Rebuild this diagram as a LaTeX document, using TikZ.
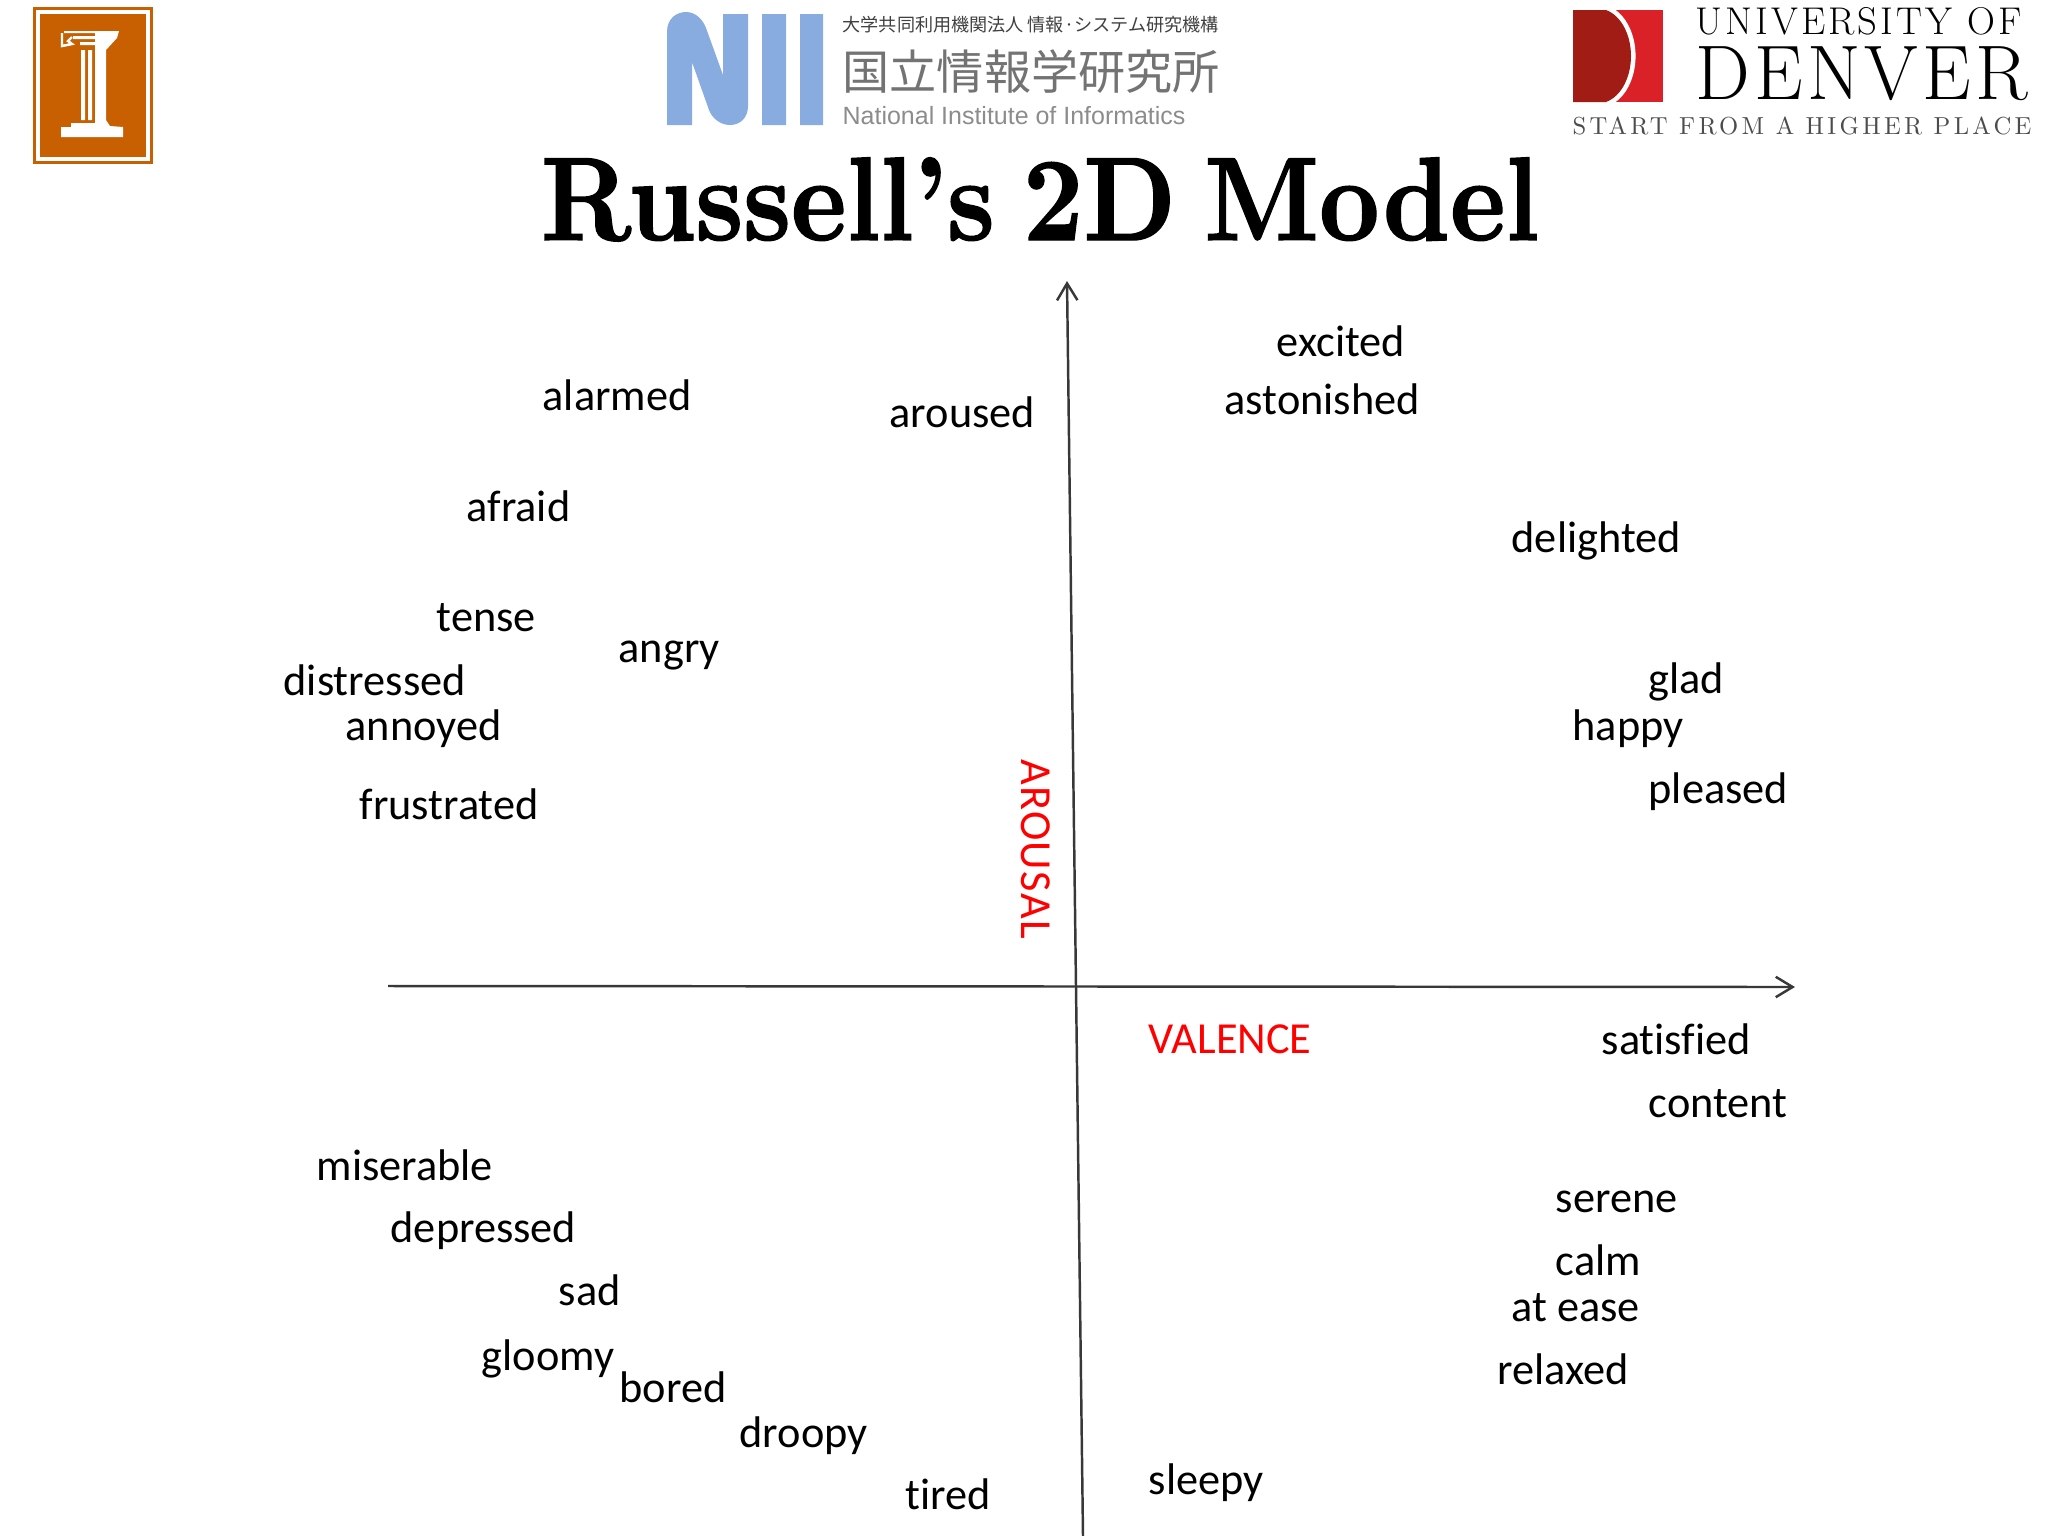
\documentclass[tikz,border=0pt]{standalone}
\usepackage{fontspec}
\usetikzlibrary{arrows.meta}
\newfontfamily\wordfont[Ligatures=NoCommon]{Carlito}
\newfontfamily\axisfont[LetterSpace=3]{Carlito}
\newfontfamily\cjkfont{Noto Sans CJK JP}
\newfontfamily\titlefont[Extension=.otf,FakeBold=1.2,WordSpace=.7]{lmroman10-bold}
\newfontfamily\uniSerif[Extension=.otf,LetterSpace=8]{lmroman17-regular}
\newfontfamily\denverSerif[Extension=.otf,LetterSpace=5.3]{lmroman17-regular}
\newfontfamily\mottoSerif[Extension=.otf,LetterSpace=13.4]{lmroman10-regular}
\newfontfamily\latinLabel{Liberation Sans}
\definecolor{illiniOrange}{HTML}{C85F00}
\definecolor{niiBlue}{HTML}{88ABE0}
\definecolor{duRed}{HTML}{DA2128}
\definecolor{duDark}{HTML}{A01C14}
\definecolor{axisRed}{HTML}{FF0000}

\begin{document}
\begin{tikzpicture}[
  x=0.01cm,y=-0.01cm,
  >={Straight Barb[length=4.8pt,width=5.8pt]},
  emotion/.style={anchor=base west,inner sep=0pt,font=\wordfont\fontsize{12.6}{14}\selectfont},
  axisname/.style={anchor=base west,inner sep=0pt,text=axisRed,font=\wordfont\fontsize{12.6}{14}\selectfont},
  axis/.style={->,line width=.7pt,black!78},
  logotext/.style={anchor=base west,inner sep=0pt}
]
  \useasboundingbox (0,0) rectangle (2048,1536);

  % illinois logo
  \fill[illiniOrange] (33,7) rectangle (153,164);
  \draw[white,line width=.9pt] (38,12) rectangle (148,159);
  \fill[white] (95,31) -- (119,31) -- (117,38) -- (106,50) -- (106,120) -- (110,126) -- (123,127) -- (123,137)
    -- (61,137) -- (61,127) -- (71,127) -- (71,123) -- (95,123) -- cycle;
  \fill[white] (81,50) rectangle (85,120) (88,50) rectangle (92,120);
  \fill[white] (64,31) rectangle (95,33) (73,36) rectangle (95,39) (80,42) rectangle (95,45);
  \draw[white,line width=.7pt] (72,37) -- (68,41) -- (72,44) -- (62,46) -- (62,33);

  % nii logo
  \fill[niiBlue] (667,125) -- (667,32) .. controls (667,18) and (677,12) .. (686,12)
    .. controls (696,12) and (703,20) .. (706,28) -- (723,75) -- (723,14) -- (748,14) -- (748,106)
    .. controls (748,118) and (740,125) .. (730,125) .. controls (720,125) and (712,118) .. (709,110)
    -- (692,62) -- (692,125) -- cycle;
  \fill[niiBlue] (762,14) rectangle (786,125) (800,14) rectangle (823,125);
  \node[logotext,text=black!75,font=\cjkfont\fontsize{5.15}{6}\selectfont] (niiTop) at (842,31) {大学共同利用機関法人 情報·システム研究機構};
  \node[logotext,text=black!55,font=\cjkfont\fontsize{13.4}{15}\selectfont] (niiName) at (842,89) {国立情報学研究所};
  \node[logotext,text=black!45,font=\latinLabel\fontsize{7.1}{8}\selectfont] (niiEnglish) at (842,124) {National Institute of Informatics};

  % denver logo
  \fill[duRed] (1573,10) rectangle (1663,102);
  \draw[white,line width=2.6pt] (1606,10) .. controls (1622,16) and (1631,36) .. (1631,56)
    .. controls (1631,76) and (1622,96) .. (1606,102);
  \fill[duDark] (1573,10) -- (1606,10) .. controls (1622,16) and (1631,36) .. (1631,56)
    .. controls (1631,76) and (1622,96) .. (1606,102) -- (1573,102) -- cycle;
  \node[logotext,font=\uniSerif\fontsize{11}{13}\selectfont] (duUniversity) at (1695,34) {UNIVERSITY OF};
  \node[logotext,font=\denverSerif\fontsize{22}{24}\selectfont] (duDenver) at (1695,99) {DENVER};
  \node[logotext,text=black!70,font=\mottoSerif\fontsize{7}{9}\selectfont] (duMotto) at (1572,134) {START FROM A HIGHER PLACE};

  % title
  \node[anchor=base,inner sep=0pt,font=\titlefont\fontsize{29.9}{34}\selectfont] (title) at (1040,240) {\scalebox{1}[1.13]{Russell’s 2D Model}};

  % axes
  \coordinate (arousalStart) at (1083,1536);
  \coordinate (arousalEnd) at (1067,281);
  \coordinate (valenceStart) at (388,986);
  \coordinate (valenceEnd) at (1795,987);
  \draw[axis] (arousalStart) -- (arousalEnd);
  \draw[axis] (valenceStart) -- (valenceEnd);
  \node[axisname,anchor=center,rotate=-90,font=\axisfont\fontsize{12.6}{14}\selectfont] (arousal) at (1036,849) {AROUSAL};
  \node[axisname] (valence) at (1148,1053) {VALENCE};

  % upper left
  \node[emotion] (alarmed) at (542,410) {alarmed};
  \node[emotion] (aroused) at (889,427) {aroused};
  \node[emotion] (afraid) at (466,521) {afraid};
  \node[emotion] (tense) at (436,631) {tense};
  \node[emotion] (angry) at (618,662) {angry};
  \node[emotion] (distressed) at (283,695) {distressed};
  \node[emotion] (annoyed) at (345,740) {annoyed};
  \node[emotion] (frustrated) at (359,819) {frustrated};

  % upper right
  \node[emotion] (excited) at (1276,356) {excited};
  \node[emotion] (astonished) at (1224,414) {astonished};
  \node[emotion] (delighted) at (1511,552) {delighted};
  \node[emotion] (glad) at (1648,693) {glad};
  \node[emotion] (happy) at (1572,740) {happy};
  \node[emotion] (pleased) at (1648,803) {pleased};

  % lower right
  \node[emotion] (satisfied) at (1601,1054) {satisfied};
  \node[emotion] (content) at (1648,1117) {content};
  \node[emotion] (serene) at (1555,1212) {serene};
  \node[emotion] (calm) at (1555,1275) {calm};
  \node[emotion] (atease) at (1511,1321) {at ease};
  \node[emotion] (relaxed) at (1497,1384) {relaxed};
  \node[emotion] (sleepy) at (1148,1494) {sleepy};

  % lower left
  \node[emotion] (miserable) at (316,1180) {miserable};
  \node[emotion] (depressed) at (390,1242) {depressed};
  \node[emotion] (sad) at (558,1305) {sad};
  \node[emotion] (gloomy) at (481,1370) {gloomy};
  \node[emotion] (bored) at (619,1402) {bored};
  \node[emotion] (droopy) at (739,1447) {droopy};
  \node[emotion] (tired) at (905,1509) {tired};
\end{tikzpicture}
\end{document}
